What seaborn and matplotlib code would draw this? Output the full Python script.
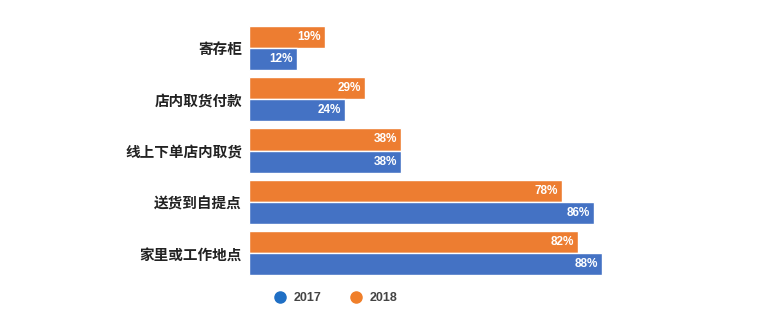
import matplotlib
matplotlib.use("Agg")
import matplotlib.pyplot as plt
import seaborn as sns
import pandas as pd
from matplotlib.lines import Line2D

categories = ["寄存柜", "店内取货付款", "线上下单店内取货", "送货到自提点", "家里或工作地点"]
values_2017 = [12, 24, 38, 86, 88]
values_2018 = [19, 29, 38, 78, 82]
series = ["2017", "2018"]

sns.set_theme(style="white")
plt.rcParams['font.family'] = ['Noto Sans CJK SC', 'DejaVu Sans']

df = pd.DataFrame({
    "cat": categories * 2,
    "year": ["2017"] * len(categories) + ["2018"] * len(categories),
    "val": values_2017 + values_2018,
})

bar_blue = "#4472c4"
bar_orange = "#ed7d31"
palette = {"2017": bar_blue, "2018": bar_orange}

fig = plt.figure(figsize=(7.8, 3.31), dpi=100)
ax = fig.add_axes([249 / 780, 1 - 279 / 331, 401 / 780, (279 - 22) / 331])

sns.barplot(data=df, y="cat", x="val", hue="year", hue_order=["2018", "2017"],
            order=categories, palette=palette, orient="h", width=0.86,
            gap=0, saturation=1, ax=ax, legend=False)

ax.set_xlim(0, 100)
ax.set_ylim(4.5, -0.5)
ax.set_xlabel("")
ax.set_ylabel("")
ax.set_xticks([])
for s in ax.spines.values():
    s.set_visible(False)
ax.tick_params(axis="y", length=0, pad=5)
for lab in ax.get_yticklabels():
    lab.set_fontsize(10.5)
    lab.set_fontweight("bold")
    lab.set_color("#222222")

for cont in ax.containers:
    texts = ax.bar_label(cont, labels=[f"{int(v)}%" for v in cont.datavalues],
                         label_type="edge", padding=-3, color="white",
                         fontsize=8.5, fontweight="bold",
                         family=['Liberation Sans', 'DejaVu Sans'])
    for t in texts:
        t.set_horizontalalignment("right")

handles = [
    Line2D([], [], marker="o", linestyle="", markersize=8, color="#1f6fc5"),
    Line2D([], [], marker="o", linestyle="", markersize=8, color="#f07f2a"),
]
fig.legend(handles, series, loc="center left", bbox_to_anchor=(274 / 780, 1 - 298 / 331),
           ncol=2, frameon=False, handlelength=1, handletextpad=0.6,
           columnspacing=2.2, borderpad=0, borderaxespad=0,
           prop={"family": ['Liberation Sans', 'DejaVu Sans'], "size": 9, "weight": "bold"},
           labelcolor="#444444")

fig.savefig("out.png", dpi=100, facecolor="white")
